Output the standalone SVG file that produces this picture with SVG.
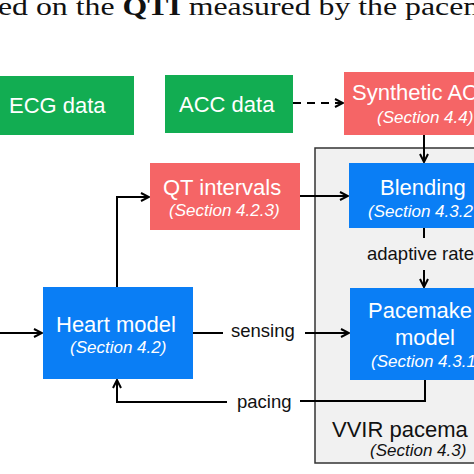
<svg xmlns="http://www.w3.org/2000/svg" width="474" height="474" viewBox="0 0 474 474">
<style>
.g{fill:#12ad52}.r{fill:#f56566}.b{fill:#0a7ef5}
.t{font-family:"Liberation Sans",Arial,sans-serif;fill:#fff;font-size:22px}
.s{font-family:"Liberation Sans",Arial,sans-serif;fill:#fff;font-size:17px;font-style:italic}
.k{font-family:"Liberation Sans",Arial,sans-serif;fill:#111;font-size:18.5px}
.kl{font-family:"Liberation Sans",Arial,sans-serif;fill:#111;font-size:22px}
.ks{font-family:"Liberation Sans",Arial,sans-serif;fill:#111;font-size:17px;font-style:italic}
.c{fill:none;stroke:#000;stroke-width:2}
</style>
<defs>
<marker id="a" viewBox="0 0 10 10" refX="9" refY="5" markerWidth="10" markerHeight="10" markerUnits="userSpaceOnUse" orient="auto">
<path d="M1,1 L9,5 L1,9" fill="none" stroke="#000" stroke-width="2"/>
</marker>
</defs>
<text x="-2" y="15" font-family="Liberation Serif,'DejaVu Serif',serif" font-size="25" fill="#111" textLength="490" lengthAdjust="spacingAndGlyphs">ed on the <tspan font-weight="bold">QTI</tspan> measured by the pacem</text>
<g id="vvir">
<rect x="315" y="148" width="200" height="315" fill="#f1f1f1" stroke="#333" stroke-width="1.5"/>
<text class="kl" x="332" y="437">VVIR pacema</text>
<text class="ks" x="370" y="456">(Section 4.3)</text>
</g>
<g id="ecg"><rect class="g" x="-20" y="76" width="154" height="59"/><text class="t" x="9" y="113">ECG data</text></g>
<g id="acc"><rect class="g" x="165" y="75" width="128" height="58"/><text class="t" x="179" y="112">ACC data</text></g>
<g id="synth"><rect class="r" x="344" y="72" width="160" height="63"/><text class="t" x="352" y="100">Synthetic AC</text><text class="s" x="377" y="123">(Section 4.4)</text></g>
<g id="qt"><rect class="r" x="150" y="163" width="150" height="67"/><text class="t" x="163" y="195">QT intervals</text><text class="s" x="169" y="216">(Section 4.2.3)</text></g>
<g id="blend"><rect class="b" x="349" y="163" width="160" height="65"/><text class="t" x="380" y="195">Blending</text><text class="s" x="368" y="217">(Section 4.3.2</text></g>
<g id="heart"><rect class="b" x="43" y="287" width="150" height="92"/><text class="t" x="56" y="332">Heart model</text><text class="s" x="70" y="353">(Section 4.2)</text></g>
<g id="pm"><rect class="b" x="350" y="288" width="160" height="92"/><text class="t" x="368" y="318">Pacemake</text><text class="t" x="395" y="345">model</text><text class="s" x="371" y="367">(Section 4.3.1</text></g>
<g id="connectors">
<path class="c" d="M293,103 H343" stroke-dasharray="8,6" marker-end="url(#a)"/>
<path class="c" d="M424,135 V162" marker-end="url(#a)"/>
<path class="c" d="M300,196 H348" marker-end="url(#a)"/>
<path class="c" d="M117,287 V197 H149" marker-end="url(#a)"/>
<path class="c" d="M0,333 H42" marker-end="url(#a)"/>
<path class="c" d="M193,333 H223"/>
<text class="k" x="231" y="337">sensing</text>
<path class="c" d="M305,333 H349" marker-end="url(#a)"/>
<path class="c" d="M424,228 V238"/>
<text class="k" x="367" y="260">adaptive rate</text>
<path class="c" d="M424,270 V287" marker-end="url(#a)"/>
<path class="c" d="M425,380 V401 H300"/>
<text class="k" x="237" y="408">pacing</text>
<path class="c" d="M227,402 H117 V380" marker-end="url(#a)"/>
</g>
</svg>
